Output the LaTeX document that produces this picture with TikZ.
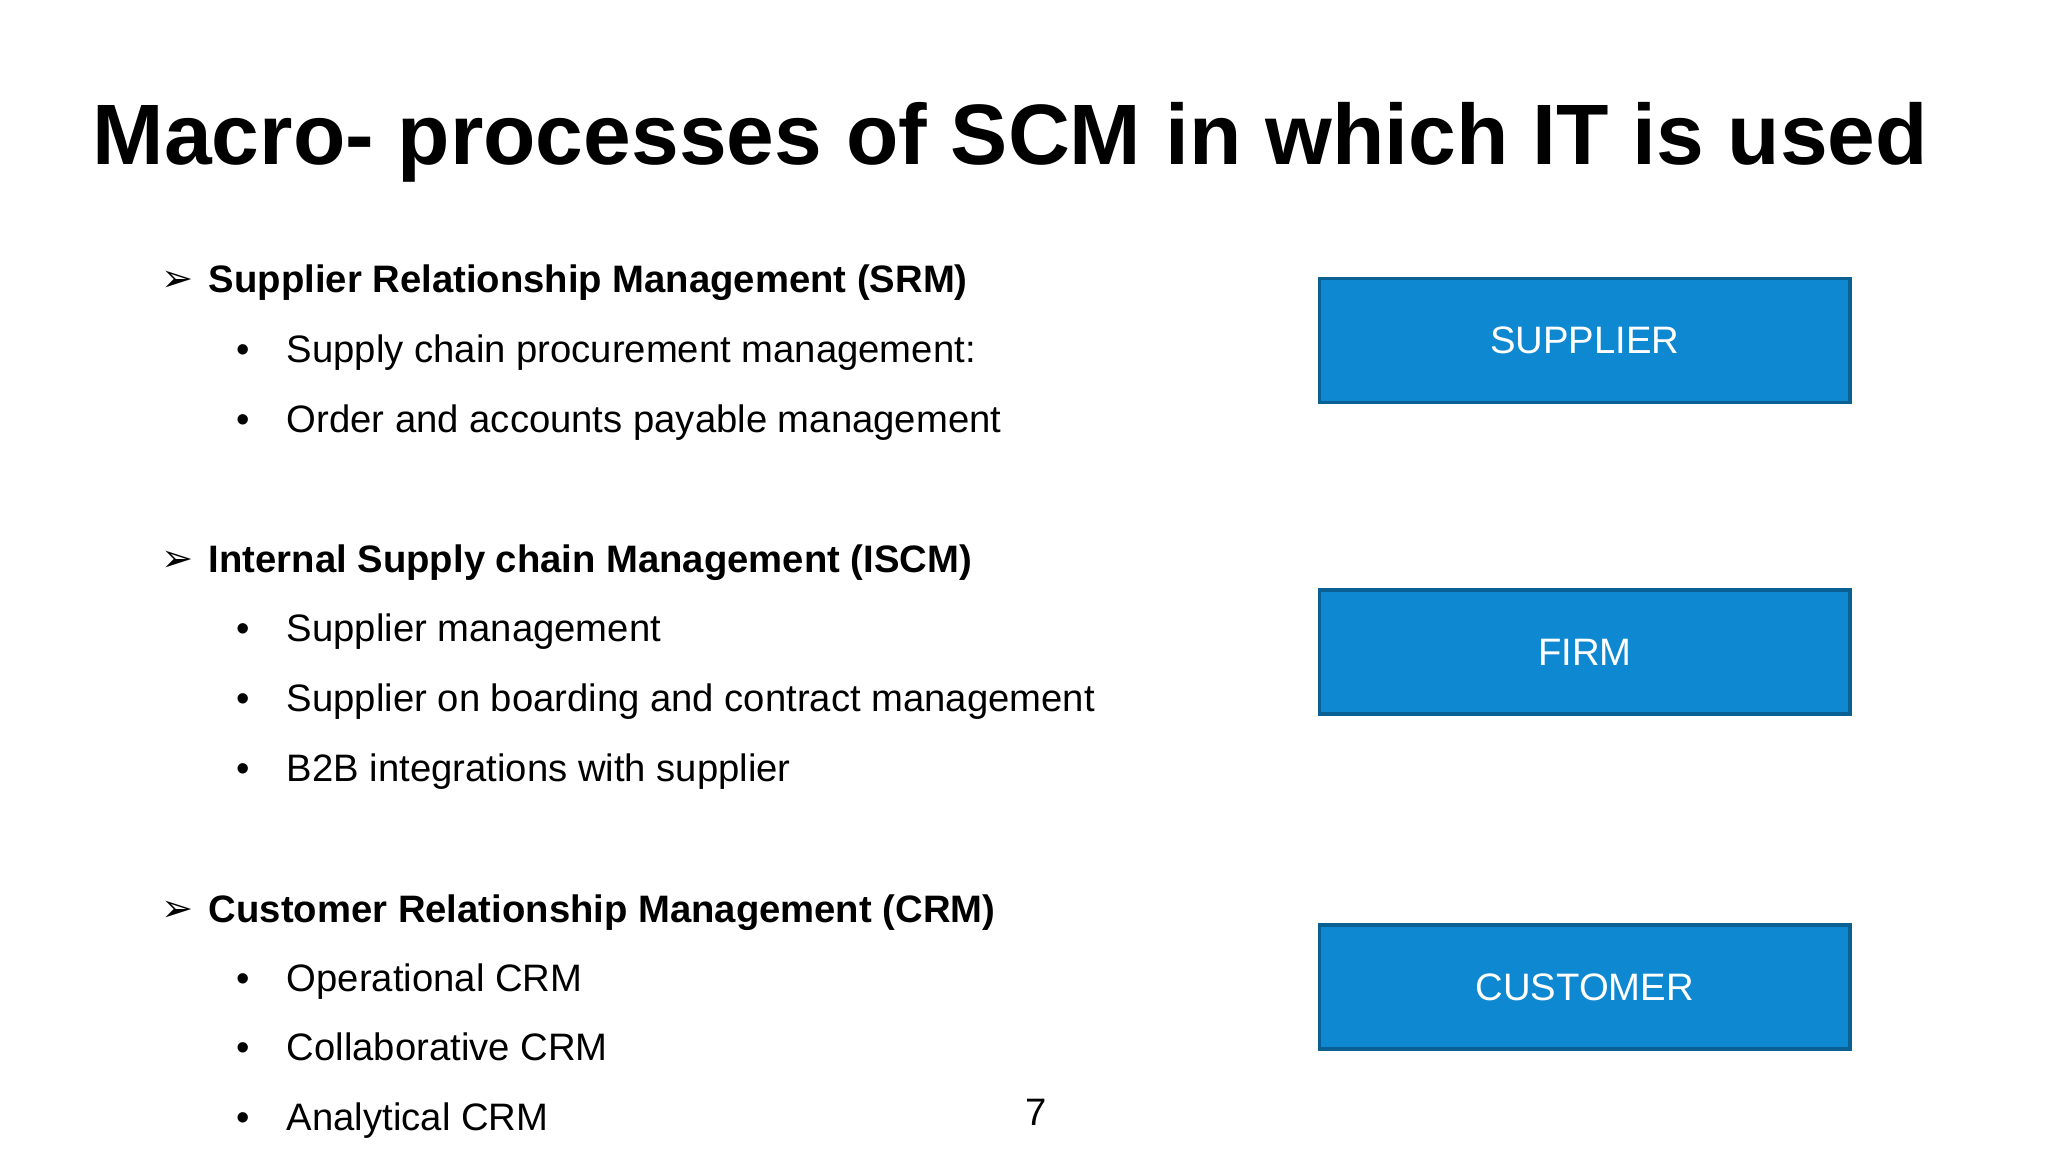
\documentclass[tikz,border=0pt]{standalone}
\usepackage{fontspec}
\setmainfont{Liberation Sans}
\newfontfamily\symfont{DejaVu Sans}
\usetikzlibrary{positioning}
\definecolor{boxblue}{HTML}{0E88D0}
\definecolor{boxedge}{HTML}{0A5F93}
\tikzset{
  head/.style={anchor=base west, font=\fontsize{16.5}{18}\selectfont\bfseries, inner sep=0pt},
  item/.style={anchor=base west, font=\fontsize{16.5}{18}\selectfont, inner sep=0pt},
  bulletmark/.style={anchor=base west, font=\fontsize{16.5}{18}\selectfont, inner sep=0pt},
  bluebox/.style={draw=boxedge, line width=1.4pt, fill=boxblue, text=white,
    minimum width=8.04cm, minimum height=1.88cm, inner sep=0pt,
    font=\fontsize{16.5}{18}\selectfont},
}
\begin{document}
\begin{tikzpicture}[x=0.02cm, y=-0.02cm]
  \useasboundingbox (0,0) rectangle (1552,873);
  \node[anchor=base west, inner sep=0pt, font=\fontsize{37}{42}\selectfont\bfseries] (title) at (70,125) {Macro- processes of SCM in which IT is used};

  % SRM
  \node[bulletmark] (m1) at (122,221) {\symfont ➢};
  \node[head] (h1) at (158,222) {Supplier Relationship Management (SRM)};
  \foreach \t/\y [count=\i] in {Supply chain procurement management:/275, Order and accounts payable management/328} {
    \node[bulletmark] (a\i) at (179,\y) {•};
    \node[item] (ta\i) at (217,\y) {\t};
  }

  % ISCM
  \node[bulletmark] (m2) at (122,433) {\symfont ➢};
  \node[head] (h2) at (158,434) {Internal Supply chain Management (ISCM)};
  \foreach \t/\y [count=\i] in {Supplier management/486, Supplier on boarding and contract management/539, B2B integrations with supplier/592} {
    \node[bulletmark] (b\i) at (179,\y) {•};
    \node[item] (tb\i) at (217,\y) {\t};
  }

  % CRM
  \node[bulletmark] (m3) at (122,698) {\symfont ➢};
  \node[head] (h3) at (158,699) {Customer Relationship Management (CRM)};
  \foreach \t/\y [count=\i] in {Operational CRM/751, Collaborative CRM/804, Analytical CRM/857} {
    \node[bulletmark] (c\i) at (179,\y) {•};
    \node[item] (tc\i) at (217,\y) {\t};
  }

  \node[item] (page) at (777,853) {7};

  \node[bluebox] (supplier) at (1201,258) {SUPPLIER};
  \node[bluebox] (firm) at (1201,494) {FIRM};
  \node[bluebox] (customer) at (1201,748) {CUSTOMER};
\end{tikzpicture}
\end{document}
